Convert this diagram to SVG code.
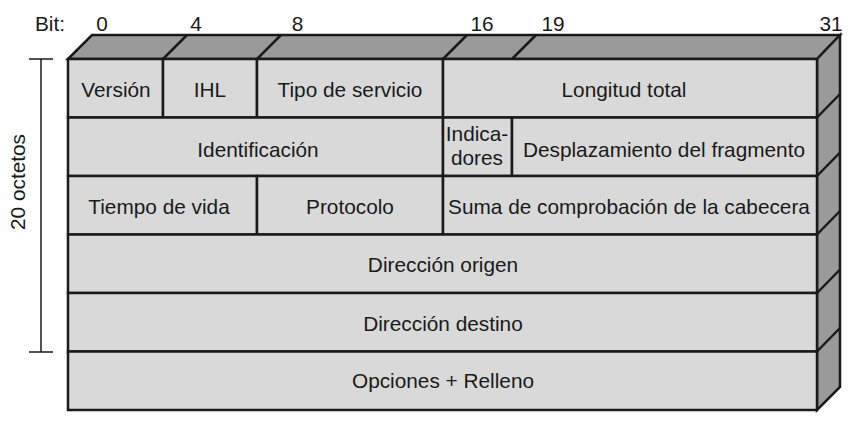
<svg xmlns="http://www.w3.org/2000/svg" width="867" height="438" viewBox="0 0 867 438">
<style>
.front{fill:#d9d9d9;stroke:#1a1a1a;stroke-width:2.5}
.side{fill:#9a9a9a;stroke:#1a1a1a;stroke-width:2.5;stroke-linejoin:miter}
.ln{stroke:#1a1a1a;stroke-width:2.5;fill:none}
.thin{stroke:#1a1a1a;stroke-width:1.5;fill:none}
text{font-family:"Liberation Sans",Arial,sans-serif;font-size:20.8px;fill:#1a1a1a}
.c{text-anchor:middle}
</style>
<rect width="867" height="438" fill="#ffffff"/>
<g id="bits">
<text x="35" y="31">Bit:</text>
<text class="c" x="102" y="31">0</text>
<text class="c" x="196" y="31">4</text>
<text class="c" x="297.5" y="31">8</text>
<text class="c" x="482" y="31">16</text>
<text class="c" x="553" y="31">19</text>
<text class="c" x="831" y="31">31</text>
</g>
<g id="size-bracket">
<line class="thin" x1="41" y1="59" x2="41" y2="352"/>
<line class="thin" x1="29" y1="59" x2="53" y2="59"/>
<line class="thin" x1="29" y1="352" x2="53" y2="352"/>
<text class="c" transform="translate(25,182) rotate(-90)">20 octetos</text>
</g>
<g id="top-face">
<polygon class="side" points="68,59 92,35 840,35 817,59"/>
<line class="ln" x1="163" y1="59" x2="187" y2="35"/>
<line class="ln" x1="257" y1="59" x2="281" y2="35"/>
<line class="ln" x1="443" y1="59" x2="467" y2="35"/>
<line class="ln" x1="512" y1="59" x2="536" y2="35"/>
</g>
<g id="right-face">
<polygon class="side" points="817,59 840,35 840,387 817,410"/>
<line class="ln" x1="817" y1="117.5" x2="840" y2="94"/>
<line class="ln" x1="817" y1="176" x2="840" y2="152.5"/>
<line class="ln" x1="817" y1="234.5" x2="840" y2="211"/>
<line class="ln" x1="817" y1="293" x2="840" y2="269.5"/>
<line class="ln" x1="817" y1="351.5" x2="840" y2="328"/>
</g>
<g id="version">
<rect class="front" x="68" y="59" width="95" height="58.5"/>
<text class="c" x="116" y="97">Versión</text>
</g>
<g id="ihl">
<rect class="front" x="163" y="59" width="94" height="58.5"/>
<text class="c" x="210" y="97">IHL</text>
</g>
<g id="tipo-servicio">
<rect class="front" x="257" y="59" width="186" height="58.5"/>
<text class="c" x="350" y="97">Tipo de servicio</text>
</g>
<g id="longitud-total">
<rect class="front" x="443" y="59" width="374" height="58.5"/>
<text class="c" x="624" y="97">Longitud total</text>
</g>
<g id="identificacion">
<rect class="front" x="68" y="117.5" width="375" height="58.5"/>
<text class="c" x="258" y="157">Identificación</text>
</g>
<g id="indicadores">
<rect class="front" x="443" y="117.5" width="69" height="58.5"/>
<text class="c" x="477" y="141">Indica-</text>
<text class="c" x="477" y="165">dores</text>
</g>
<g id="desplazamiento">
<rect class="front" x="512" y="117.5" width="305" height="58.5"/>
<text class="c" x="664" y="157">Desplazamiento del fragmento</text>
</g>
<g id="tiempo-vida">
<rect class="front" x="68" y="176" width="189" height="58.5"/>
<text class="c" x="159" y="214">Tiempo de vida</text>
</g>
<g id="protocolo">
<rect class="front" x="257" y="176" width="186" height="58.5"/>
<text class="c" x="350" y="214">Protocolo</text>
</g>
<g id="suma">
<rect class="front" x="443" y="176" width="374" height="58.5"/>
<text class="c" x="629" y="214">Suma de comprobación de la cabecera</text>
</g>
<g id="direccion-origen">
<rect class="front" x="68" y="234.5" width="749" height="58.5"/>
<text class="c" x="443" y="272">Dirección origen</text>
</g>
<g id="direccion-destino">
<rect class="front" x="68" y="293" width="749" height="58.5"/>
<text class="c" x="443" y="330.5">Dirección destino</text>
</g>
<g id="opciones">
<rect class="front" x="68" y="351.5" width="749" height="58.5"/>
<text class="c" x="443" y="388">Opciones + Relleno</text>
</g>
<g id="connectors"></g>
</svg>
